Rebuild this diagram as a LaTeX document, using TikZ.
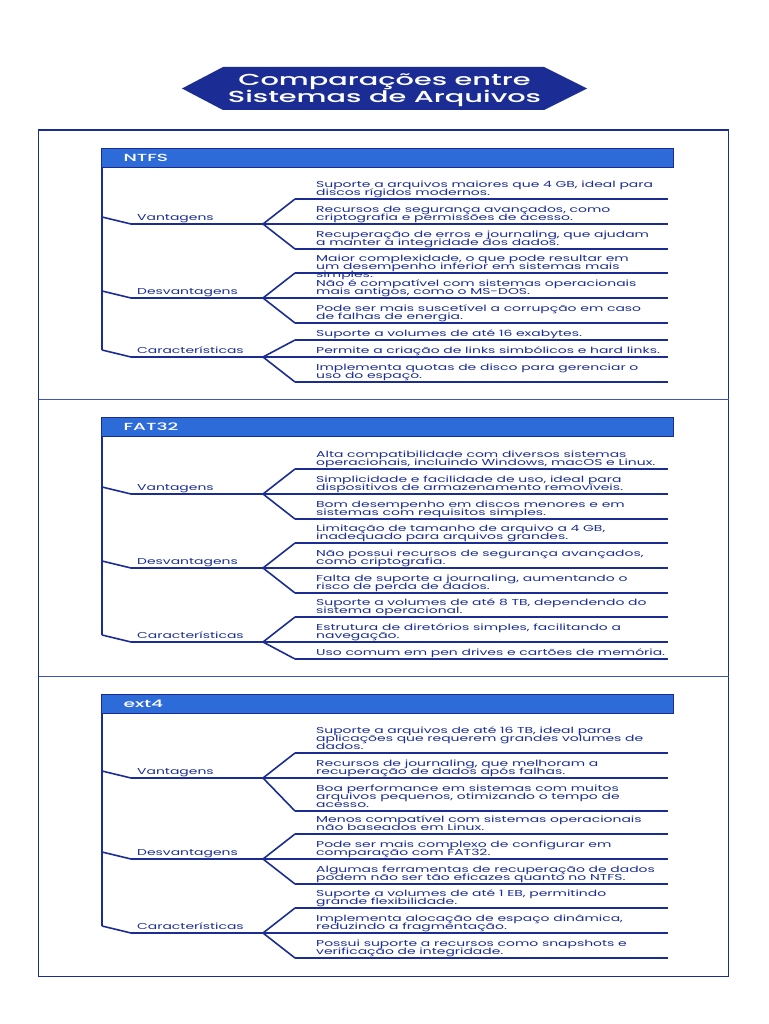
\documentclass[tikz,border=0pt]{standalone}
\usepackage{fontspec}
\setmainfont{Poppins}[FakeStretch=1.62]
\newfontfamily\titlefont{Poppins}[FakeStretch=1.8, UprightFont=* Medium]
\definecolor{navy}{HTML}{1B2D94}
\definecolor{hdrblue}{HTML}{2D6BD8}
\definecolor{divblue}{HTML}{3F55B5}
\newcommand\itemfont{\fontsize{8.6}{8}\selectfont}
\newcommand\hdrfont{\titlefont\fontsize{10.3}{10}\selectfont}
\newcommand\itx[1]{\vtop{\baselineskip=8pt\lineskiplimit=-\maxdimen\halign{##\hfil\cr#1\crcr}}}
\newcommand\branch[5]{%
  \coordinate (#1s) at (102,#2-7);
  \coordinate (#1a) at (131,#2);
  \coordinate (#1f) at (263,#2);
  \coordinate (#1t) at (295,#3);
  \coordinate (#1b) at (295,#4);
  \coordinate (#1te) at (668,#3);
  \coordinate (#1me) at (668,#2);
  \coordinate (#1be) at (668,#4);
  \node[lbl] (#1l) at (137,#2-3.5) {#5};
  \draw[fork] (#1s) -- (#1a);
  \draw[uline] (#1a) -- (#1me);
  \draw[fork] (#1f) -- (#1t);
  \draw[fork] (#1f) -- (#1b);
  \draw[uline] (#1t) -- (#1te);
  \draw[uline] (#1b) -- (#1be);
}
\newcommand\itm[3]{\node[itm] (#1) at (316,#2) {\itx{#3}};}
\begin{document}
\begin{tikzpicture}[x=1pt,y=-1pt,
  itm/.style={anchor=base west, inner sep=0pt, text=navy, font=\itemfont},
  lbl/.style={anchor=base west, inner sep=0pt, text=navy, font=\itemfont},
  hdr/.style={anchor=north west, fill=hdrblue, draw=navy, line width=1.2pt, minimum width=572pt, minimum height=19pt, inner xsep=22pt, inner ysep=0pt, text width=528pt, align=left, text=white, font=\hdrfont},
  uline/.style={draw=navy, line width=1.3pt},
  fork/.style={draw=navy, line width=1.6pt},
  trunk/.style={draw=navy, line width=2pt},
  frame/.style={draw=navy, line width=1.6pt},
  divider/.style={draw=divblue, line width=1pt},
  titletxt/.style={text=white, align=center, font=\titlefont\fontsize{16}{15}\selectfont, inner sep=0pt}
]
\useasboundingbox (0,0) rectangle (768,1024);
% title
\fill[navy] (182,88.5) -- (223,67) -- (544,67) -- (587,88.5) -- (544,110) -- (223,110) -- cycle;
\node[titletxt] (title) at (384.5,90) {Comparações entre\\Sistemas de Arquivos};
% frame
\draw[frame] (38.5,130) rectangle (728.5,976.5);
\draw[divider] (38.5,399.5) -- (728.5,399.5);
\draw[divider] (38.5,676.5) -- (728.5,676.5);

% ---------------- NTFS
\node[hdr] (ntfs) at (101,148) {NTFS};
\coordinate (n0) at (102,167);
\branch{nv}{224}{199}{249}{Vantagens}
\branch{nd}{298}{273}{323}{Desvantagens}
\branch{nc}{357}{340}{382}{Características}
\draw[trunk] (n0) -- (ncs);
\itm{nv1}{199-11.6}{Suporte a arquivos maiores que 4 GB, ideal para\cr discos rígidos modernos.}
\itm{nv2}{224-11.6}{Recursos de segurança avançados, como\cr criptografia e permissões de acesso.}
\itm{nv3}{249-11.6}{Recuperação de erros e journaling, que ajudam\cr a manter a integridade dos dados.}
\itm{nd1}{273-11.6}{Maior complexidade, o que pode resultar em\cr um desempenho inferior em sistemas mais\cr simples.}
\itm{nd2}{298-11.6}{Não é compatível com sistemas operacionais\cr mais antigos, como o MS-DOS.}
\itm{nd3}{323-11.6}{Pode ser mais suscetível a corrupção em caso\cr de falhas de energia.}
\itm{nc1}{340-3.6}{Suporte a volumes de até 16 exabytes.}
\itm{nc2}{357-3.6}{Permite a criação de links simbólicos e hard links.}
\itm{nc3}{382-11.6}{Implementa quotas de disco para gerenciar o\cr uso do espaço.}

% ---------------- FAT32
\node[hdr] (fat) at (101,417) {FAT32};
\coordinate (f0) at (102,437);
\branch{fv}{494}{469}{519}{Vantagens}
\branch{fd}{568}{543}{593}{Desvantagens}
\branch{fc}{642}{617}{659}{Características}
\draw[trunk] (f0) -- (fcs);
\itm{fv1}{469-11.6}{Alta compatibilidade com diversos sistemas\cr operacionais, incluindo Windows, macOS e Linux.}
\itm{fv2}{494-11.6}{Simplicidade e facilidade de uso, ideal para\cr dispositivos de armazenamento removíveis.}
\itm{fv3}{519-11.6}{Bom desempenho em discos menores e em\cr sistemas com requisitos simples.}
\itm{fd1}{543-11.6}{Limitação de tamanho de arquivo a 4 GB,\cr inadequado para arquivos grandes.}
\itm{fd2}{568-11.6}{Não possui recursos de segurança avançados,\cr como criptografia.}
\itm{fd3}{593-11.6}{Falta de suporte a journaling, aumentando o\cr risco de perda de dados.}
\itm{fc1}{617-11.6}{Suporte a volumes de até 8 TB, dependendo do\cr sistema operacional.}
\itm{fc2}{642-11.6}{Estrutura de diretórios simples, facilitando a\cr navegação.}
\itm{fc3}{659-3.6}{Uso comum em pen drives e cartões de memória.}

% ---------------- ext4
\node[hdr] (ext) at (101,694) {ext4};
\coordinate (e0) at (102,714);
\branch{ev}{778}{753}{811}{Vantagens}
\branch{ed}{859}{834}{884}{Desvantagens}
\branch{ec}{933}{908}{958}{Características}
\draw[trunk] (e0) -- (ecs);
\itm{ev1}{753-19.6}{Suporte a arquivos de até 16 TB, ideal para\cr aplicações que requerem grandes volumes de\cr dados.}
\itm{ev2}{778-11.6}{Recursos de journaling, que melhoram a\cr recuperação de dados após falhas.}
\itm{ev3}{811-19.6}{Boa performance em sistemas com muitos\cr arquivos pequenos, otimizando o tempo de\cr acesso.}
\itm{ed1}{834-11.6}{Menos compatível com sistemas operacionais\cr não baseados em Linux.}
\itm{ed2}{859-11.6}{Pode ser mais complexo de configurar em\cr comparação com FAT32.}
\itm{ed3}{884-11.6}{Algumas ferramentas de recuperação de dados\cr podem não ser tão eficazes quanto no NTFS.}
\itm{ec1}{908-11.6}{Suporte a volumes de até 1 EB, permitindo\cr grande flexibilidade.}
\itm{ec2}{933-11.6}{Implementa alocação de espaço dinâmica,\cr reduzindo a fragmentação.}
\itm{ec3}{958-11.6}{Possui suporte a recursos como snapshots e\cr verificação de integridade.}
\end{tikzpicture}
\end{document}
